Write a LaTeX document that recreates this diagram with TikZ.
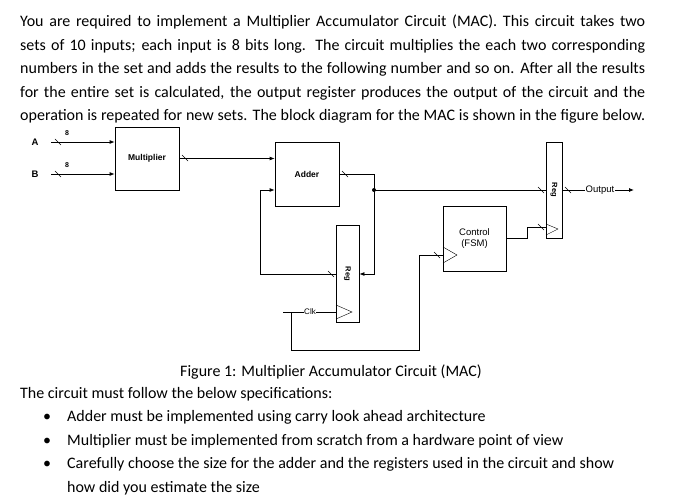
\documentclass[tikz,border=0pt]{standalone}
\usepackage{fontspec}
\setmainfont{Carlito}
\newfontfamily\diag{Liberation Sans}
\usetikzlibrary{arrows.meta}
\newcommand\jline[1]{\hbox to 625pt{#1}}
\begin{document}
\begin{tikzpicture}[x=1pt,y=-1pt,
  txt/.style={anchor=base west,inner sep=0,font=\fontsize{16}{19}\selectfont},
  box/.style={draw,thick,inner sep=0,font=\diag\bfseries\fontsize{8.5}{10}\selectfont},
  wire/.style={thick},
  arr/.style={thick,-{Latex[length=5pt,width=4pt]}},
  tick/.style={thin},
  lbl/.style={font=\diag\bfseries\fontsize{8.5}{10}\selectfont,inner sep=1pt}]
\useasboundingbox (0,0) rectangle (696,497);
\node[txt] (t1) at (20,27) {\jline{You are required to implement a Multiplier Accumulator Circuit (MAC). This circuit takes two}};
\node[txt] (t2) at (20,51) {\jline{sets of 10 inputs; each input is 8 bits long. The circuit multiplies the each two corresponding}};
\node[txt] (t3) at (20,74) {\jline{numbers in the set and adds the results to the following number and so on. After all the results}};
\node[txt] (t4) at (20,98) {\jline{for the entire set is calculated, the output register produces the output of the circuit and the}};
\node[txt] (t5) at (20,121) {\jline{operation is repeated for new sets. The block diagram for the MAC is shown in the figure below.}};
% boxes
\node[box,minimum width=64,minimum height=63] (mul) at (147,158.5) {Multiplier};
\node[box,minimum width=64,minimum height=64] (add) at (307,174) {Adder};
\node[box,minimum width=23,minimum height=97] (r1) at (347.5,273.5) {};
\node[lbl,rotate=-90,font=\diag\bfseries\fontsize{7.5}{9}\selectfont] (r1t) at (347.5,274) {Reg};
\node[box,minimum width=16,minimum height=96] (r2) at (554,190) {};
\node[lbl,rotate=-90,font=\diag\bfseries\fontsize{7.5}{9}\selectfont] (r2t) at (554,190) {Reg};
\node[box,minimum width=63,minimum height=65,align=center,font=\diag\fontsize{9.5}{11.5}\selectfont] (ctl) at (474.5,238.5) {Control\\(FSM)};
% clock triangles
\draw (336,305) -- (352,312) -- (336,319);
\draw (546,224) -- (558,229) -- (546,235);
\draw (443,247) -- (457,255) -- (443,263);
% inputs
\node[lbl,font=\diag\bfseries\fontsize{9.5}{11}\selectfont] (la) at (35,142) {A};
\node[lbl,font=\diag\bfseries\fontsize{9.5}{11}\selectfont] (lb) at (35,174) {B};
\coordinate (ia) at (51,142); \coordinate (ib) at (51,174);
\draw[arr] (ia) -- (ia -| mul.west);
\draw[arr] (ib) -- (ib -| mul.west);
\node[lbl,font=\diag\bfseries\fontsize{7}{8}\selectfont] (n8a) at (67,133) {8};
\node[lbl,font=\diag\bfseries\fontsize{7}{8}\selectfont] (n8b) at (67,165) {8};
\draw[tick] (55,139)--(61,145); \draw[tick] (55,171)--(61,177);
% mul to adder
\draw[arr] (mul.east) -- (mul.east -| add.west);
\draw[tick] (182,155)--(188,161);
% adder out
\coordinate (j) at (374,190);
\coordinate (ao) at (374,174);
\draw[wire] (add.east |- ao) -- (ao) -- (j);
\draw[tick] (342,171)--(348,177);
\fill (j) circle (2);
\draw[arr] (j) -- (374,274) -- (r1.east |- 0,274);
\draw[wire] (j) -- (j -| r2.west);
\draw[tick] (538,187)--(544,193);
% feedback reg1 to adder
\draw[arr] (r1.west |- 0,274) -- (260,274) -- (260,190) -- (add.west |- 0,190);
\draw[tick] (328,271)--(334,277);
% clock
\coordinate (ck) at (283,312);
\draw[wire] (ck) -- (r1.west |- ck);
\node[lbl,fill=white,font=\diag\fontsize{8}{9}\selectfont,inner sep=0.5pt] (clk) at (310,312) {Clk};
\draw[wire] (291,312) -- (291,350) -- (419,350) -- (419,255) -- (ctl.west |- 0,255);
\draw[tick] (434,252)--(440,258);
% control to reg2
\draw[wire] (ctl.east |- 0,238) -- (527,238) -- (527,227) -- (r2.west |- 0,227);
\draw[tick] (538,224)--(544,230);
% output
\node[lbl,font=\diag\fontsize{9.5}{11}\selectfont,inner sep=0.5pt] (out) at (600,190) {Output};
\draw[wire] (r2.east |- 0,190) -- (out.west);
\draw[tick] (565,187)--(571,193);
\draw[arr] (out.east) -- (634,190);
% caption and text
\node[txt,anchor=base] (cap) at (331,376) {Figure 1: Multiplier Accumulator Circuit (MAC)};
\node[txt] (t6) at (20,398) {The circuit must follow the below specifications:};
\node[txt] (b1) at (43,421) {\textbullet};
\node[txt] (s1) at (67,421) {Adder must be implemented using carry look ahead architecture};
\node[txt] (b2) at (43,445) {\textbullet};
\node[txt] (s2) at (67,445) {Multiplier must be implemented from scratch from a hardware point of view};
\node[txt] (b3) at (43,468) {\textbullet};
\node[txt] (s3) at (67,468) {Carefully choose the size for the adder and the registers used in the circuit and show};
\node[txt] (s4) at (67,492) {how did you estimate the size};
\end{tikzpicture}
\end{document}
